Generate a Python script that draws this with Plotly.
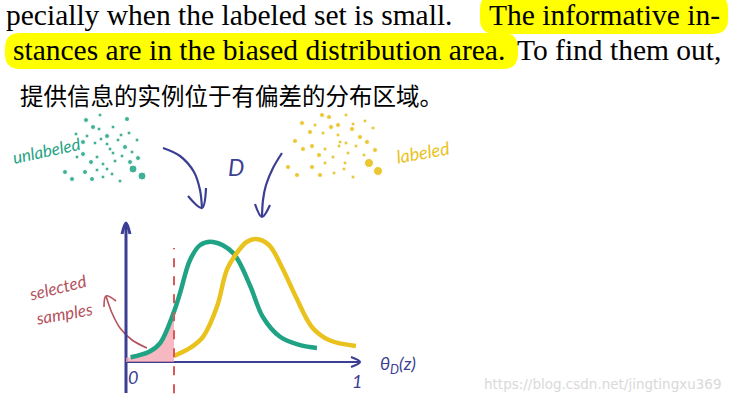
import plotly.graph_objects as go

# paragraph text (two justified lines, split round the highlight)
line1_plain = "pecially when the labeled set is small."
line1_mark = "The informative in-"
line2_mark = "stances are in the biased distribution area."
line2_plain = "To find them out,"
zh_line = "提供信息的实例位于有偏差的分布区域。"

# sketched curves, x = theta_D in [0, 1]
unlab_x = [0.02, 0.10, 0.147, 0.207, 0.233, 0.276, 0.32, 0.375, 0.461, 0.534, 0.59, 0.664, 0.75, 0.823]
unlab_y = [0.04, 0.086, 0.158, 0.42, 0.575, 0.85, 0.975, 1.0, 0.91, 0.64, 0.375, 0.21, 0.14, 0.117]
lab_x = [0.207, 0.276, 0.332, 0.392, 0.435, 0.478, 0.52, 0.56, 0.616, 0.672, 0.733, 0.802, 0.875, 0.991]
lab_y = [0.05, 0.117, 0.21, 0.46, 0.77, 0.91, 1.0, 1.025, 0.975, 0.79, 0.54, 0.29, 0.183, 0.133]
cutoff = 0.207

# scattered sample dots (page pixels)
teal_dx = [86, 100, 127, 93, 99, 113, 76, 87, 101, 107, 121, 129, 83, 95, 107, 118, 137, 110, 125, 132,
           77, 83, 97, 113, 122, 138, 91, 103, 115, 130, 65, 85, 97, 107, 133, 72, 92, 103, 112, 120, 142]
teal_dy = [120, 115, 119, 127, 129, 127, 134, 136, 139, 136, 135, 133, 142, 143, 144, 140, 140, 149, 147, 152,
           157, 154, 157, 153, 156, 158, 162, 164, 161, 162, 172, 172, 170, 169, 169, 179, 179, 177, 174, 181, 176]
teal_ds = [4, 3, 4, 4, 3, 3, 3, 3, 3, 4, 3, 3, 4, 3, 3, 3, 3, 3, 4, 3,
           3, 4, 3, 3, 3, 4, 4, 3, 3, 4, 4, 4, 3, 3, 7, 4, 4, 3, 3, 3, 7]
gold_dx = [322, 329, 346, 302, 315, 331, 338, 353, 365, 310, 323, 338, 352, 373, 295, 340, 346, 360, 367, 303,
           312, 325, 339, 356, 375, 319, 333, 348, 364, 288, 312, 325, 345, 369, 297, 320, 334, 344, 353, 378]
gold_dy = [115, 117, 115, 123, 125, 127, 125, 124, 121, 132, 133, 135, 129, 128, 141, 142, 143, 137, 142, 149,
           146, 149, 146, 146, 150, 155, 157, 153, 155, 167, 167, 163, 163, 163, 175, 175, 173, 169, 177, 171]
gold_ds = [4, 4, 3, 4, 3, 4, 4, 3, 3, 4, 3, 3, 4, 3, 4, 3, 3, 4, 4, 4,
           4, 3, 3, 3, 4, 4, 3, 3, 3, 4, 4, 3, 3, 8, 4, 4, 3, 3, 3, 8]

TEAL = "#1fa384"
GOLD = "#e9c21d"
NAVY = "#3b3f93"
RED = "#d65a5a"
INK_RED = "#b4525c"
PINK = "rgba(243,160,172,0.75)"

W, H = 733, 402

fig = go.Figure()


def rounded(x0, y0, x1, y1, r):
    return (f"M {x0+r},{y0} L {x1-r},{y0} Q {x1},{y0} {x1},{y0+r} L {x1},{y1-r} "
            f"Q {x1},{y1} {x1-r},{y1} L {x0+r},{y1} Q {x0},{y1} {x0},{y1-r} "
            f"L {x0},{y0+r} Q {x0},{y0} {x0+r},{y0} Z")


# highlighter marks
for p in [rounded(480, -6, 728, 34, 15), rounded(5, 33, 518, 69, 15)]:
    fig.add_shape(type="path", path=p, xref="x", yref="y", fillcolor="#ffff00",
                  line=dict(width=0), layer="below")

serif = dict(family="Liberation Serif, Times New Roman, serif", size=29.5, color="black")
fig.add_annotation(x=4, y=15, text=line1_plain, xanchor="left", font=serif)
fig.add_annotation(x=722, y=15, text=line1_mark, xanchor="right", font=serif)
fig.add_annotation(x=11, y=50, text=line2_mark, xanchor="left", font=serif)
fig.add_annotation(x=723, y=50, text=line2_plain, xanchor="right", font=serif)
fig.add_annotation(x=18, y=95, text=zh_line, xanchor="left",
                   font=dict(family="Noto Sans CJK SC", size=23.5, color="black"))
for a in fig.layout.annotations:
    a.update(xref="x", yref="y", showarrow=False, yanchor="middle")

# sample clouds
fig.add_trace(go.Scatter(x=teal_dx, y=teal_dy, mode="markers", xaxis="x", yaxis="y",
                         marker=dict(size=[s + 1 for s in teal_ds], color=TEAL, opacity=0.85),
                         hoverinfo="skip", showlegend=False))
fig.add_trace(go.Scatter(x=gold_dx, y=gold_dy, mode="markers", xaxis="x", yaxis="y",
                         marker=dict(size=[s + 1 for s in gold_ds], color=GOLD, opacity=0.9),
                         hoverinfo="skip", showlegend=False))

# pen strokes: curved arrows + chevrons (page pixels)
strokes = [
    ([163, 180, 194, 200, 202], [148, 156, 172, 190, 208], NAVY, 2.2),
    ([188, 202, 206], [196, 208, 188], NAVY, 2.2),
    ([282, 273, 266, 263, 262], [153, 168, 185, 200, 217], NAVY, 2.2),
    ([255, 262, 270], [204, 217, 205], NAVY, 2.2),
    ([147, 132, 120, 112, 106], [348, 340, 328, 313, 296], INK_RED, 1.6),
    ([104, 106, 116], [307, 296, 301], INK_RED, 1.6),
    ([126, 126], [393, 224], NAVY, 3),
    ([122, 126, 130], [234, 223, 234], NAVY, 3),
    ([126, 360], [362, 362], NAVY, 2.2),
    ([351, 360, 351], [357, 362, 367], NAVY, 2.2),
]
for sx, sy, col, wd in strokes:
    fig.add_trace(go.Scatter(x=sx, y=sy, mode="lines", xaxis="x", yaxis="y",
                             line=dict(color=col, width=wd, shape="spline"),
                             hoverinfo="skip", showlegend=False))

hand = dict(family="Lato", style="italic")
n_text = len(fig.layout.annotations)
fig.add_annotation(x=46, y=150, text="unlabeled", textangle=-12,
                   font=dict(size=17, color=TEAL, **hand))
fig.add_annotation(x=423, y=152, text="labeled", textangle=-10,
                   font=dict(size=18, color=GOLD, **hand))
fig.add_annotation(x=236, y=167, text="D", font=dict(size=23, color=NAVY, **hand))
fig.add_annotation(x=57, y=287, text="selected", textangle=-14,
                   font=dict(size=17, color=INK_RED, **hand))
fig.add_annotation(x=64, y=313, text="samples", textangle=-10,
                   font=dict(size=17, color=INK_RED, **hand))
fig.add_annotation(x=133, y=377, text="0", font=dict(size=18, color=NAVY, **hand))
fig.add_annotation(x=357, y=381, text="1", font=dict(size=18, color=NAVY, **hand))
fig.add_annotation(x=378, y=364, xanchor="left", text="θ<sub>D</sub>(z)",
                   font=dict(size=18, color=NAVY, **hand))
fig.add_annotation(x=724, y=384, xanchor="right", text="https://blog.csdn.net/jingtingxu369",
                   font=dict(family="DejaVu Sans", size=13.5, color="#d9d9d9"))
for a in fig.layout.annotations[n_text:]:
    a.update(xref="x", yref="y", showarrow=False, yanchor="middle")

# the density sketch on its own axes
fig.add_trace(go.Scatter(x=[0] + [v for v in unlab_x if v <= cutoff],
                         y=[0.035] + [unlab_y[i] for i, v in enumerate(unlab_x) if v <= cutoff],
                         mode="lines", fill="tozeroy", fillcolor=PINK,
                         line=dict(width=0, shape="spline"), xaxis="x2", yaxis="y2",
                         hoverinfo="skip", showlegend=False))
fig.add_trace(go.Scatter(x=unlab_x, y=unlab_y, mode="lines", xaxis="x2", yaxis="y2",
                         line=dict(color=TEAL, width=4.5, shape="spline", smoothing=1.0),
                         name="unlabeled", showlegend=False))
fig.add_trace(go.Scatter(x=lab_x, y=lab_y, mode="lines", xaxis="x2", yaxis="y2",
                         line=dict(color=GOLD, width=4.5, shape="spline", smoothing=1.0),
                         name="labeled", showlegend=False))
fig.add_shape(type="line", xref="x2", yref="y2", x0=cutoff, x1=cutoff, y0=-0.26, y1=0.95,
              line=dict(color=RED, width=2, dash="dash"))

fig.update_layout(
    width=W, height=H,
    margin=dict(l=0, r=0, t=0, b=0),
    paper_bgcolor="white", plot_bgcolor="rgba(0,0,0,0)",
    xaxis=dict(range=[0, W], domain=[0, 1], visible=False, fixedrange=True),
    yaxis=dict(range=[H, 0], domain=[0, 1], visible=False, fixedrange=True),
    xaxis2=dict(range=[-0.05, 1.05], domain=[114.4 / W, 369.6 / W], anchor="y2",
                visible=False, fixedrange=True),
    yaxis2=dict(range=[-0.3, 1.2], domain=[4 / H, 184 / H], anchor="x2",
                visible=False, fixedrange=True),
)

# drop the browser's default 8px body margin so the page is drawn edge to edge
fig.write_html("out.html", config={"displayModeBar": False},
               post_script="document.body.style.margin = '0px';")
